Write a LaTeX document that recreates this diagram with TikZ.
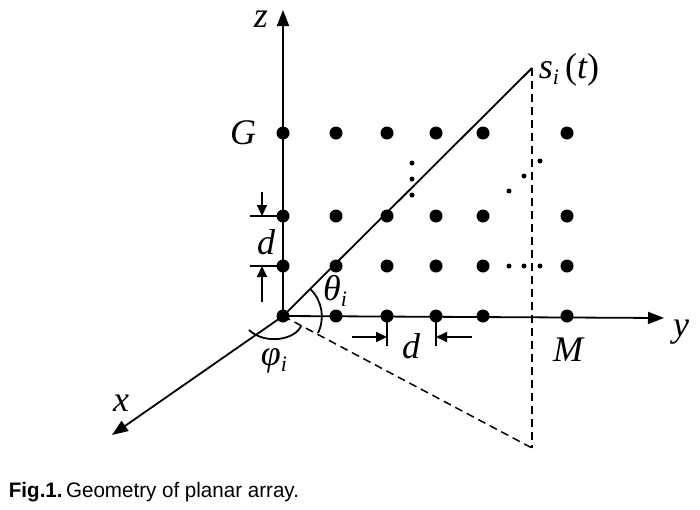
\documentclass[tikz,border=0pt]{standalone}
\usepackage{fontspec}
\setmainfont{Liberation Serif}
\newfontfamily\capfont{Liberation Sans}
\usetikzlibrary{arrows.meta}
\newcommand{\sbi}{\raisebox{-6pt}{\fontsize{22}{22}\selectfont i}}
\begin{document}
\begin{tikzpicture}[x=1pt,y=-1pt,line width=1.8pt,
  dot/.style={circle,fill=black,inner sep=0pt,minimum size=13pt},
  sdot/.style={circle,fill=black,inner sep=0pt,minimum size=5pt},
  lab/.style={font=\fontsize{36}{38}\selectfont\itshape,inner sep=0pt},
  dsh/.style={dash pattern=on 8pt off 5pt,line width=1.5pt},
  tip/.style={-{Triangle[length=16pt,width=12pt]}},
  stip/.style={-{Triangle[length=11pt,width=10pt]}}]
\useasboundingbox (0,0) rectangle (700,509);
\coordinate (O) at (283,316);
\coordinate (Z) at (283,10);
\coordinate (Y) at (664,318);
\coordinate (X) at (112,435);
\coordinate (S) at (532,68);
\coordinate (P) at (532,448);
\draw[tip] (O) -- (Z);
\draw[tip] (O) -- (Y);
\draw[tip] (O) -- (X);
\draw (O) -- (S);
\draw[dsh] (S) -- (P);
\draw[dsh] (O) -- (P);
% dots
\foreach \x in {283,336,387,436,483,567}
  \foreach \y in {133,216,266,316}
    \node[dot] at (\x,\y) {};
\foreach \p in {(412,163),(412,179),(412,195),(509,191),(524,176),(540,161),(509,266),(524,266),(540,266)}
  \node[sdot] at \p {};
% arcs
\draw (318,333) arc[start angle=26,end angle=-45,radius=38];
\draw (249,330) .. controls (265,345) and (295,340) .. (301,326);
% d markers
\draw (250,216) -- (283,216);
\draw (250,266) -- (283,266);
\draw[stip] (262,192) -- (262,216);
\draw[stip] (262,302) -- (262,266);
\draw (387,316) -- (387,346);
\draw (436,316) -- (436,346);
\draw[stip] (352,337) -- (387,337);
\draw[stip] (472,337) -- (436,337);
% labels
\node[lab] (lz) at (261,19) {z};
\node[lab] (lg) at (243,133) {G};
\node[lab,anchor=west] (ls) at (538,70) {s\sbi\,\upshape(\itshape t\upshape)};
\node[lab] (ly) at (681,332) {y};
\node[lab] (lx) at (121,403) {x};
\node[lab] (lm) at (568,350) {M};
\node[lab] (ld1) at (266,242) {d};
\node[lab] (ld2) at (411,346) {d};
\node[lab] (lt) at (335,291) {θ\sbi};
\node[lab] (lp) at (274,361) {φ\sbi};
\node[anchor=west,inner sep=0pt,font=\capfont\fontsize{21}{23}\selectfont,xscale=0.98] (cap) at (8,492) {\textbf{Fig.1.}\,Geometry of planar array.};
\end{tikzpicture}
\end{document}
